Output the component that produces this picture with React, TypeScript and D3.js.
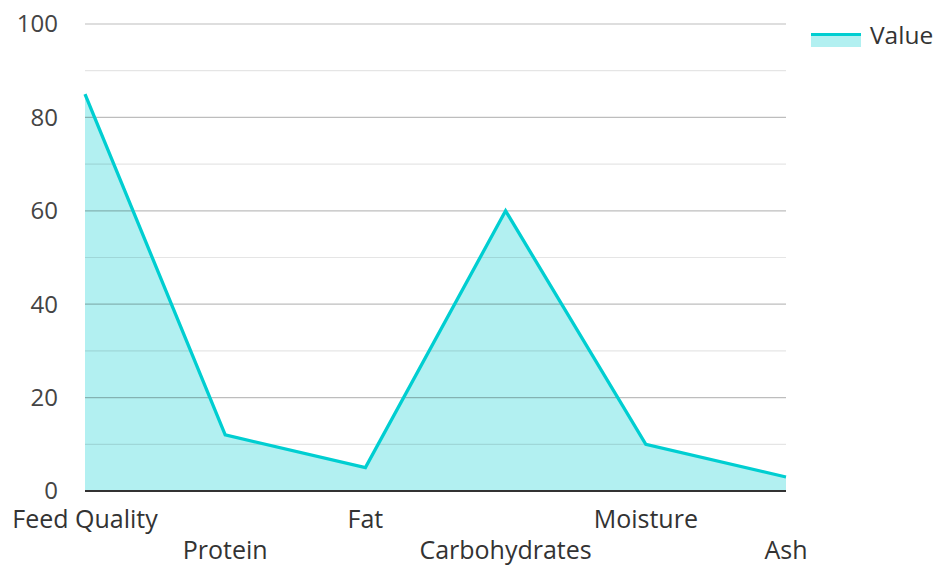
import React from "react";
import * as d3 from "d3";

const categories = ["Feed Quality", "Protein", "Fat", "Carbohydrates", "Moisture", "Ash"];
const values = [85, 12, 5, 60, 10, 3];
const majorTicks = [0, 20, 40, 60, 80, 100];
const minorTicks = [10, 30, 50, 70, 90];
const seriesName = "Value";

const W = 936, H = 566;
const M = { left: 85, right: 150, top: 24, bottom: 75 };
const COLOR = "#00CED1";
const FONT = "'Open Sans', 'Noto Sans', sans-serif";

export default function App() {
  const x = d3.scalePoint<string>().domain(categories).range([M.left, W - M.right]);
  const y = d3.scaleLinear().domain([0, 100]).range([H - M.bottom, M.top]);
  const data = categories.map((c, i) => ({ c, v: values[i] }));
  const area = d3.area<{ c: string; v: number }>().x(d => x(d.c)!).y0(y(0)).y1(d => y(d.v));
  const line = d3.line<{ c: string; v: number }>().x(d => x(d.c)!).y(d => y(d.v));
  return (
    <svg width={W} height={H} style={{ position: "absolute", left: 0, top: 0, fontFamily: FONT }}>
      <rect width={W} height={H} fill="#fff" />
      <path d={area(data)!} fill={COLOR} fillOpacity={0.3} />
      {minorTicks.map(t => (
        <line key={"m" + t} x1={M.left} x2={W - M.right} y1={y(t)} y2={y(t)} stroke="#000" strokeOpacity={0.1} strokeWidth={1.2} />
      ))}
      {majorTicks.filter(t => t !== 0).map(t => (
        <line key={"M" + t} x1={M.left} x2={W - M.right} y1={y(t)} y2={y(t)} stroke="#000" strokeOpacity={0.26} strokeWidth={1.2} />
      ))}
      <path d={line(data)!} fill="none" stroke={COLOR} strokeWidth={3.3} strokeLinejoin="miter" />
      <line x1={M.left} x2={W - M.right} y1={y(0)} y2={y(0)} stroke="#333" strokeWidth={2} />
      {majorTicks.map(t => (
        <text key={"t" + t} x={58} y={y(t)} dy="0.35em" textAnchor="end" fontSize={24} fill="#444">{t}</text>
      ))}
      {categories.map((c, i) => (
        <text key={c} x={x(c)!} y={i % 2 === 0 ? 528 : 559} textAnchor="middle" fontSize={25} fill="#333">{c}</text>
      ))}
      <rect x={811} y={33} width={50} height={14} fill={COLOR} fillOpacity={0.3} />
      <line x1={811} x2={861} y1={34.5} y2={34.5} stroke={COLOR} strokeWidth={3} />
      <text x={870} y={44} fontSize={24.5} fill="#333">{seriesName}</text>
    </svg>
  );
}
